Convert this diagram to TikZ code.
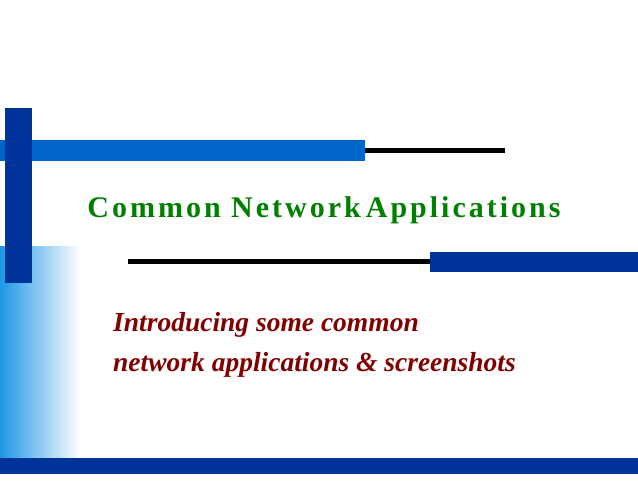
\documentclass[tikz,border=0pt]{standalone}
\usepackage{fontspec}
\setmainfont{Liberation Serif}
\definecolor{dblue}{RGB}{0,51,153}
\definecolor{lblue}{RGB}{0,102,204}
\definecolor{gblue}{RGB}{30,150,230}
\definecolor{tgreen}{RGB}{0,128,0}
\definecolor{tred}{RGB}{128,0,0}
\begin{document}
\begin{tikzpicture}[x=1pt,y=-1pt,
  title/.style={font=\bfseries\fontsize{30}{36}\selectfont\addfontfeatures{LetterSpace=10},text=tgreen,inner sep=0},
  sub/.style={font=\bfseries\itshape\fontsize{27.5}{32}\selectfont,text=tred,inner sep=0,anchor=base west}]
\useasboundingbox (0,0) rectangle (638,493);
\fill[white] (0,0) rectangle (638,493);
\shade[left color=gblue,right color=white] (0,246) rectangle (80,460);
\fill[lblue] (0,140) rectangle (365,161);
\fill[black] (365,148) rectangle (505,153);
\fill[dblue] (5,108) rectangle (32,283);
\fill[black] (128,259) rectangle (430,264);
\fill[dblue] (430,252) rectangle (638,272);
\fill[dblue] (0,458) rectangle (638,474);
\node[title] (t) at (324,210) {Common Network\,Applications};
\node[sub] (s1) at (113,331) {Introducing some common};
\node[sub] (s2) at (113,371) {network applications \& screenshots};
\end{tikzpicture}
\end{document}
